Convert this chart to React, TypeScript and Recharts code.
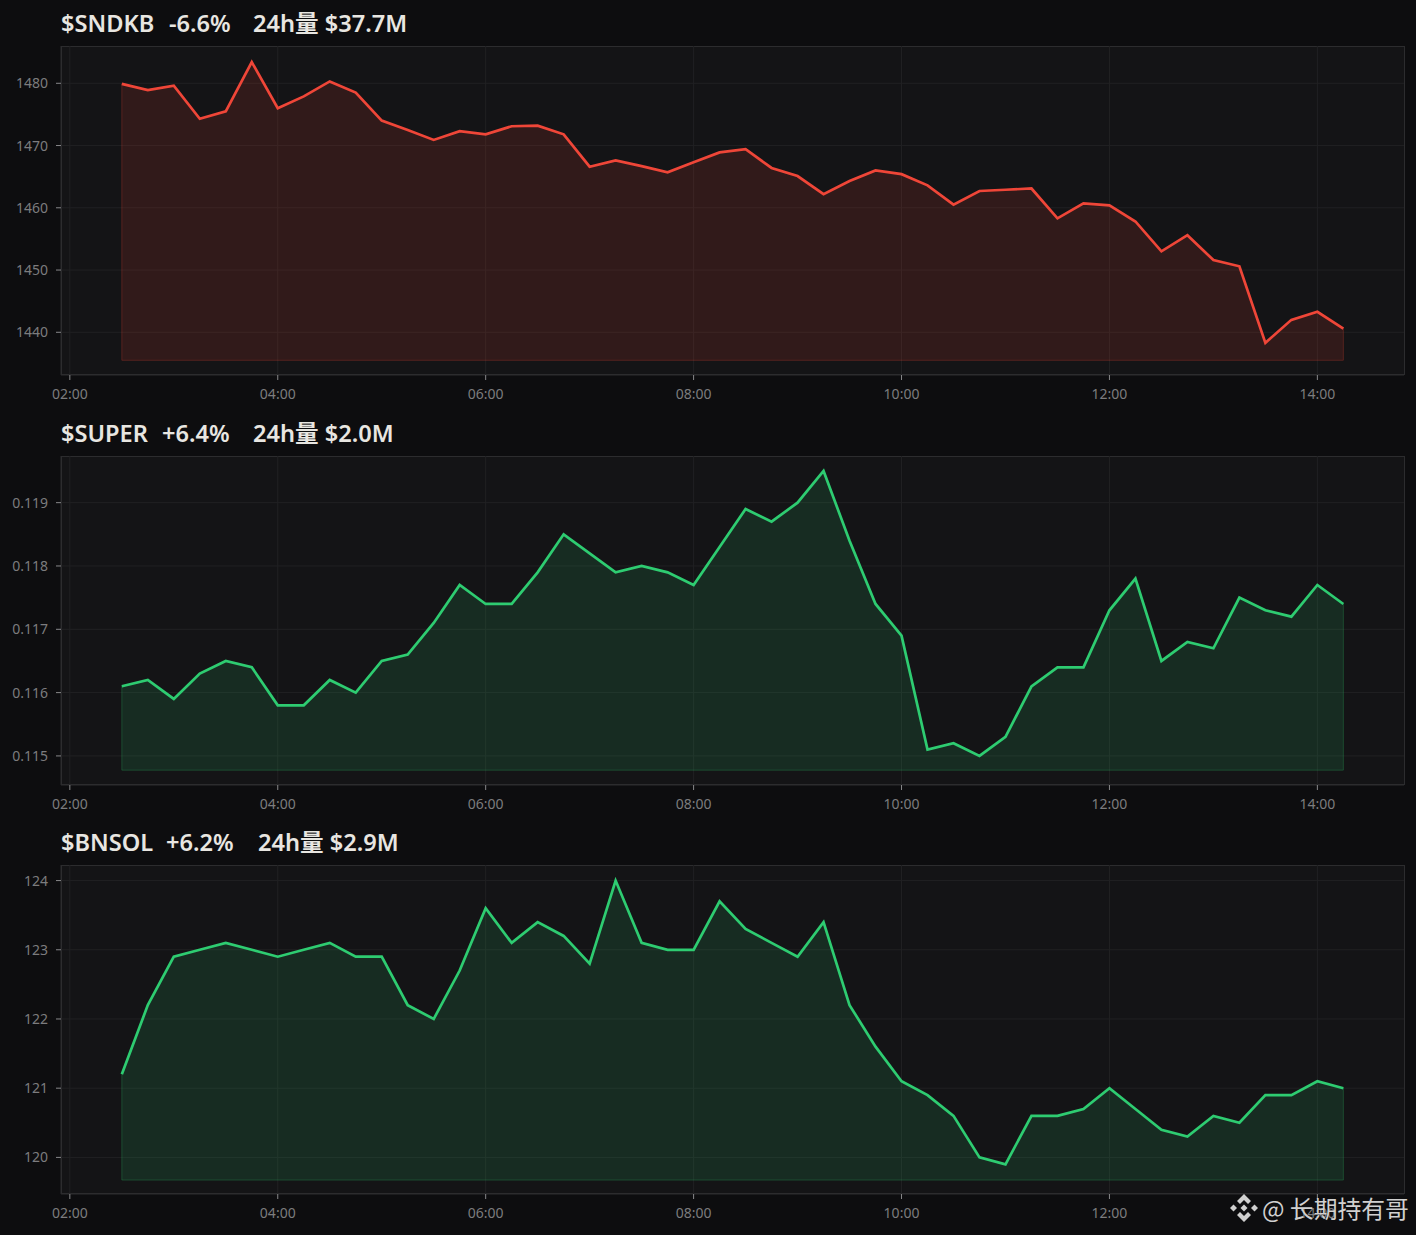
import { ComposedChart, Area, XAxis, YAxis, CartesianGrid, ReferenceLine } from 'recharts';

// minutes since midnight, one sample every 15 min (02:30 .. 14:15)
const minutes = [
  150, 165, 180, 195, 210, 225, 240, 255, 270, 285, 300, 315,
  330, 345, 360, 375, 390, 405, 420, 435, 450, 465, 480, 495,
  510, 525, 540, 555, 570, 585, 600, 615, 630, 645, 660, 675,
  690, 705, 720, 735, 750, 765, 780, 795, 810, 825, 840, 855,
];
const timeTicks = [120, 240, 360, 480, 600, 720, 840];

const sndkbValues = [
  1479.9, 1478.9, 1479.6, 1474.3, 1475.5, 1483.4, 1476.0, 1477.9, 1480.3, 1478.5, 1474.0, 1472.5,
  1470.9, 1472.3, 1471.8, 1473.1, 1473.2, 1471.8, 1466.6, 1467.6, 1466.7, 1465.7, 1467.3, 1468.9,
  1469.4, 1466.4, 1465.1, 1462.2, 1464.3, 1466.0, 1465.4, 1463.6, 1460.5, 1462.7, 1462.9, 1463.1,
  1458.3, 1460.7, 1460.4, 1457.8, 1453.0, 1455.6, 1451.6, 1450.6, 1438.3, 1442.0, 1443.3, 1440.6,
];
const superValues = [
  0.1161, 0.1162, 0.1159, 0.1163, 0.1165, 0.1164, 0.1158, 0.1158, 0.1162, 0.116, 0.1165, 0.1166,
  0.1171, 0.1177, 0.1174, 0.1174, 0.1179, 0.1185, 0.1182, 0.1179, 0.118, 0.1179, 0.1177, 0.1183,
  0.1189, 0.1187, 0.119, 0.1195, 0.1184, 0.1174, 0.1169, 0.1151, 0.1152, 0.115, 0.1153, 0.1161,
  0.1164, 0.1164, 0.1173, 0.1178, 0.1165, 0.1168, 0.1167, 0.1175, 0.1173, 0.1172, 0.1177, 0.1174,
];
const bnsolValues = [
  121.2, 122.2, 122.9, 123.0, 123.1, 123.0, 122.9, 123.0, 123.1, 122.9, 122.9, 122.2,
  122.0, 122.7, 123.6, 123.1, 123.4, 123.2, 122.8, 124.0, 123.1, 123.0, 123.0, 123.7,
  123.3, 123.1, 122.9, 123.4, 122.2, 121.6, 121.1, 120.9, 120.6, 120.0, 119.9, 120.6,
  120.6, 120.7, 121.0, 120.7, 120.4, 120.3, 120.6, 120.5, 120.9, 120.9, 121.1, 121.0,
];

const sndkbTicks = [1440, 1450, 1460, 1470, 1480];
const superTicks = [0.115, 0.116, 0.117, 0.118, 0.119];
const bnsolTicks = [120, 121, 122, 123, 124];

const RED = '#ef4638';
const GREEN = '#2ecc71';
const TICK = '#7c7c7e';
const GRID = '#212123';
const BORDER = '#2c2c2e';
const FONT = '"Noto Sans", "Noto Sans CJK SC", sans-serif';

const xDomain = [114.9, 890];

function fmtTime(m: number) {
  const h = Math.floor(m / 60);
  return `${String(h).padStart(2, '0')}:00`;
}

interface PanelProps {
  top: number;
  title: string[];
  titleX: number[];
  values: number[];
  yTicks: number[];
  yDomain: number[];
  base: number;
  color: string;
  fmt: (v: number) => string;
}

function Panel({ top, title, titleX, values, yTicks, yDomain, base, color, fmt }: PanelProps) {
  const data = minutes.map((m, i) => ({ m, v: values[i] }));
  const first = minutes[0];
  const last = minutes[minutes.length - 1];
  const edge = color + '40';
  return (
    <>
      {title.map((t, i) => (
        <div
          key={t}
          style={{
            position: 'absolute',
            left: titleX[i],
            top: top - 39,
            fontFamily: FONT,
            fontSize: 23.6,
            fontWeight: 600,
            lineHeight: '32px',
            color: '#e8e6e1',
            whiteSpace: 'pre',
          }}
        >
          {t}
        </div>
      ))}
      <div
        style={{
          position: 'absolute',
          left: 61,
          top,
          width: 1344,
          height: 329,
          boxSizing: 'border-box',
          background: '#141416',
          border: `1px solid ${BORDER}`,
        }}
      />
      <div style={{ position: 'absolute', left: 0, top }}>
        <ComposedChart
          width={1416}
          height={359}
          data={data}
          margin={{ top: 0, right: 12, bottom: 0, left: 0 }}
        >
          <CartesianGrid stroke={GRID} verticalValues={timeTicks} horizontalValues={yTicks} />
          <XAxis
            dataKey="m"
            type="number"
            domain={xDomain}
            ticks={timeTicks}
            tickFormatter={fmtTime}
            height={30}
            tickSize={5}
            tickMargin={9}
            interval={0}
            allowDataOverflow
            stroke={BORDER}
            tick={{ fill: TICK, fontSize: 14, fontFamily: FONT }}
            tickLine={{ stroke: '#88888a' }}
          />
          <YAxis
            type="number"
            domain={yDomain}
            ticks={yTicks}
            tickFormatter={fmt}
            width={61}
            tickSize={5}
            tickMargin={8}
            interval={0}
            allowDataOverflow
            stroke={BORDER}
            tick={{ fill: TICK, fontSize: 14, fontFamily: FONT }}
            tickLine={{ stroke: '#88888a' }}
          />
          <Area
            dataKey="v"
            type="linear"
            baseValue={base}
            stroke={color}
            strokeWidth={2.7}
            fill={color}
            fillOpacity={0.135}
            dot={false}
            activeDot={false}
            isAnimationActive={false}
          />
          <ReferenceLine segment={[{ x: first, y: base }, { x: last, y: base }]} stroke={edge} />
          <ReferenceLine segment={[{ x: first, y: base }, { x: first, y: values[0] }]} stroke={edge} />
          <ReferenceLine
            segment={[{ x: last, y: base }, { x: last, y: values[values.length - 1] }]}
            stroke={edge}
          />
        </ComposedChart>
      </div>
    </>
  );
}

export default function App() {
  return (
    <div
      style={{
        position: 'fixed',
        left: 0,
        top: 0,
        width: 1416,
        height: 1235,
        overflow: 'hidden',
        background: '#0d0d0f',
      }}
    >
      <Panel
        top={46}
        title={['$SNDKB', '-6.6%', '24h量 $37.7M']}
        titleX={[61, 169, 253]}
        values={sndkbValues}
        yTicks={sndkbTicks}
        yDomain={[1433.14, 1485.99]}
        base={1435.5}
        color={RED}
        fmt={(v) => String(v)}
      />
      <Panel
        top={456}
        title={['$SUPER', '+6.4%', '24h量 $2.0M']}
        titleX={[61, 162, 253]}
        values={superValues}
        yTicks={superTicks}
        yDomain={[0.114541, 0.119737]}
        base={0.114775}
        color={GREEN}
        fmt={(v) => v.toFixed(3)}
      />
      <Panel
        top={865}
        title={['$BNSOL', '+6.2%', '24h量 $2.9M']}
        titleX={[61, 166, 258]}
        values={bnsolValues}
        yTicks={bnsolTicks}
        yDomain={[119.471, 124.225]}
        base={119.672}
        color={GREEN}
        fmt={(v) => String(v)}
      />
      {/* watermark */}
      <svg
        style={{ position: 'absolute', left: 1230, top: 1194 }}
        width={28}
        height={28}
        viewBox="0 0 28 28"
      >
        <g fill="#d0d0d0">
          <path d="M14 0 L21 7 L18 10 L14 6 L10 10 L7 7 Z" />
          <path d="M14 28 L21 21 L18 18 L14 22 L10 18 L7 21 Z" />
          <path d="M3.5 10.5 L7 14 L3.5 17.5 L0 14 Z" />
          <path d="M24.5 10.5 L28 14 L24.5 17.5 L21 14 Z" />
          <path d="M14 10.5 L17.5 14 L14 17.5 L10.5 14 Z" />
        </g>
      </svg>
      <div
        style={{
          position: 'absolute',
          left: 1262,
          top: 1191,
          fontFamily: '"Noto Sans CJK SC", sans-serif',
          fontSize: 23.8,
          lineHeight: '34px',
          color: '#d0d0d0',
          whiteSpace: 'pre',
        }}
      >
        @ 长期持有哥
      </div>
    </div>
  );
}
